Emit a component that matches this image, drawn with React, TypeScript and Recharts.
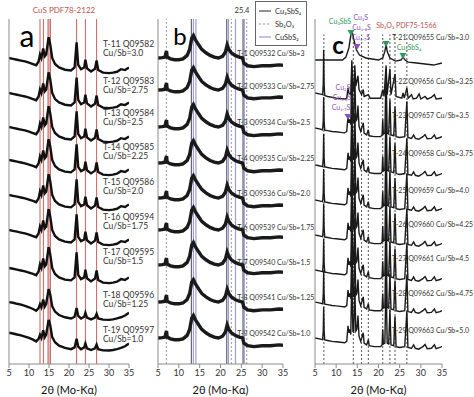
import React from 'react';
import { LineChart, Line, XAxis, YAxis, ReferenceLine, ReferenceArea, ReferenceDot, Label } from 'recharts';

type Pt = [number, number];

// ---------- common ----------
const xTicks = [5, 10, 15, 20, 25, 30, 35];
const yTicks = [0, 1, 2, 3, 4, 5, 6, 7, 8, 9, 10, 11, 12, 13, 14, 15, 16, 17, 18, 19, 20];
const xTitle = '2θ (Mo-Kα)';

// ---------- panel a ----------
const profileAUpper: Pt[] = [
  [5, 0], [6, -0.05], [7, -0.1], [8, -0.15], [9, -0.2], [10, -0.27], [11, -0.35], [11.8, -0.42],
  [12.4, -0.2], [12.75, 0.2], [13.1, 0.0], [13.55, 0.55], [13.95, 0.1], [14.3, 0.2], [14.9, 1.2],
  [15.3, 0.8], [15.8, 0.0], [16.5, -0.35], [17.5, -0.55], [19, -0.68], [20.5, -0.72], [21.4, -0.55],
  [21.9, 0.9], [22.3, -0.4], [23, -0.65], [23.8, -0.55], [24.1, -0.1], [24.5, -0.6], [25.5, -0.78],
  [26.5, -0.62], [26.9, -0.15], [27.3, -0.7], [28.5, -0.85], [30, -0.88], [31, -0.85], [32, -0.8],
  [33, -0.65], [34, -0.7], [35, -0.55],
];
const profileALower: Pt[] = [
  [5, 0], [6, -0.04], [7, -0.1], [8, -0.15], [9, -0.22], [10, -0.3], [11, -0.4], [11.8, -0.5],
  [12.4, -0.35], [12.75, -0.12], [13.1, -0.3], [13.55, 0.15], [13.95, -0.25], [14.3, -0.1], [14.9, 0.75],
  [15.3, 0.45], [15.8, -0.25], [16.5, -0.55], [17.5, -0.75], [19, -0.88], [20.5, -0.95], [21.4, -0.85],
  [21.9, -0.35], [22.3, -0.8], [23, -0.95], [23.8, -0.85], [24.1, -0.62], [24.5, -0.9], [25.5, -1.0],
  [26.5, -0.9], [26.9, -0.68], [27.3, -0.95], [28.5, -1.02], [30, -1.03], [31, -1.0], [32, -0.95],
  [33, -0.88], [34, -0.78], [35, -0.62],
];
const profilesA = [profileAUpper, profileALower];
const samplesA = ['T-11 Q09582', 'T-12 Q09583', 'T-13 Q09584', 'T-14 Q09585', 'T-15 Q09586', 'T-16 Q09594', 'T-17 Q09595', 'T-18 Q09596', 'T-19 Q09597'];
const ratiosA = ['Cu/Sb=3.0', 'Cu/Sb=2.75', 'Cu/Sb=2.5', 'Cu/Sb=2.25', 'Cu/Sb=2.0', 'Cu/Sb=1.75', 'Cu/Sb=1.5', 'Cu/Sb=1.25', 'Cu/Sb=1.0'];
const offsetsA = [17.74, 15.71, 13.74, 11.83, 9.8, 7.77, 5.57, 3.59, 1.81];
const profileIndexA = [0, 0, 0, 0, 0, 0, 0, 1, 1];
const labelXA = 28.5;
const labelYA = [18.38, 16.23, 14.38, 12.41, 10.38, 8.35, 6.32, 3.83, 1.8];
const cusLines = [12.75, 13.6, 14.75, 15.35, 21.9, 24.1, 26.9];
const cusBand: [number, number] = [14.75, 15.35];

// ---------- panel b ----------
const profileB: Pt[] = [
  [5, 0], [6, 0.02], [6.7, 0.05], [6.9, 0.3], [7.05, 0.4], [7.2, 0.05], [8, -0.05], [9, -0.1], [10, -0.1],
  [11, -0.05], [12, 0.15], [12.6, 0.5], [13.1, 1.15], [13.5, 1.3], [14.0, 1.05], [14.8, 0.75], [15.5, 0.5],
  [16.5, 0.3], [17.5, 0.15], [18.5, 0.05], [19.5, 0.0], [20.5, 0.1], [21.2, 0.35], [21.6, 0.75], [22.0, 0.5],
  [22.6, 0.3], [23.5, 0.15], [24.5, 0.05], [25.3, 0.0], [25.6, -0.3], [26.5, -0.45], [28, -0.5], [30, -0.45],
  [32, -0.45], [34, -0.4], [35, -0.42],
];
const samplesB = ['T-1 Q09532 Cu/Sb=3', 'T-2 Q09533 Cu/Sb=2.75', 'T-3 Q09534 Cu/Sb=2.5', 'T-4 Q09535 Cu/Sb=2.25', 'T-5 Q09536 Cu/Sb=2.0', 'T-6 Q09539 Cu/Sb=1.75', 'T-7 Q09540 Cu/Sb=1.5', 'T-8 Q09541 Cu/Sb=1.25', 'T-9 Q09542 Cu/Sb=1.0'];
const offsetsB = [17.74, 15.88, 13.74, 11.65, 9.62, 7.77, 5.74, 3.59, 1.51];
const labelXB = 24.0;
const labelYB = [17.86, 15.94, 13.86, 11.77, 9.74, 7.77, 5.74, 3.71, 1.62];
const cu3sbs4Lines = [13.0, 21.5, 25.4];
const cusbs2Lines = [13.5, 14.1, 21.9, 23.6, 25.7];
const sb2o3LinesB = [7.0, 22.6, 26.3];
const legendB = ['Cu₃SbS₄', 'Sb₂O₃', 'CuSbS₂'];

// ---------- panel c ----------
const profileC21: Pt[] = [
  [5, 0], [8, 0], [10, 0], [11.5, 0], [12.3, 0.17], [13.0, 0.7], [13.5, 1.5], [13.8, 1.62], [14.2, 1.16],
  [14.8, 0.58], [15.5, 0.29], [17, 0.12], [18.5, 0.06], [20, 0], [21.0, 0.12], [21.5, 0.5], [21.8, 0.87],
  [22.1, 0.46], [22.7, 0.12], [24, -0.06], [25.3, 0], [25.8, 0.17], [26.3, 0], [27, -0.12], [29, -0.17],
  [31, -0.23], [33, -0.29], [35, -0.17],
];
const profileC22: Pt[] = [
  [5, 0], [6, -0.05], [6.8, -0.1], [6.95, 0.5], [7.05, 2.5], [7.15, 0.5], [7.3, -0.15], [8, -0.2], [10, -0.3],
  [12, -0.35], [12.5, -0.3], [12.8, 0.3], [13.0, 0.0], [13.45, -0.1], [13.7, 1.9], [13.95, 0.2], [14.15, 0.1],
  [14.4, 1.6], [14.65, 0.4], [15.15, 1.0], [15.4, 0.2], [16, -0.1], [16.4, 0.2], [16.6, -0.2], [17.6, -0.1],
  [18, -0.3], [20.5, -0.3], [21.0, 0.2], [21.3, -0.2], [21.8, 1.6], [22.05, -0.1], [22.7, 1.4], [22.95, -0.1],
  [23.9, 1.1], [24.15, -0.2], [25.5, -0.3], [25.8, 0.0], [26.1, -0.3], [26.7, 0.3], [27.0, -0.3], [27.8, -0.1],
  [28.2, -0.35], [29, -0.3], [29.6, -0.05], [30, -0.35], [31, -0.2], [31.5, -0.35], [32.5, -0.25], [33.2, -0.1],
  [33.6, -0.35], [35, -0.3],
];
const profileCMain: Pt[] = [
  [5, 0], [6, -0.05], [6.8, -0.1], [6.95, 0.4], [7.05, 1.8], [7.15, 0.4], [7.3, -0.12], [8, -0.15], [9, -0.2],
  [10, -0.22], [11, -0.25], [12, -0.28], [12.5, -0.2], [12.8, 0.7], [13.0, 0.3], [13.2, 0.5], [13.45, 0.2],
  [13.7, 3.6], [13.95, 0.4], [14.15, 0.3], [14.4, 3.0], [14.65, 0.4], [14.9, 0.5], [15.15, 1.3], [15.4, 0.1],
  [15.8, -0.2], [16.4, 0.3], [16.6, -0.3], [17.2, -0.4], [17.6, -0.1], [17.8, -0.45], [19, -0.5], [20.5, -0.5],
  [20.85, -0.4], [21.0, 0.5], [21.15, -0.35], [21.5, -0.3], [21.8, 3.4], [22.05, -0.3], [22.4, -0.35],
  [22.7, 1.65], [22.95, -0.4], [23.6, -0.45], [23.9, 1.25], [24.15, -0.5], [25, -0.55], [26.2, -0.5],
  [26.7, 1.55], [26.95, -0.55], [27.8, -0.6], [28.3, -0.4], [28.7, -0.6], [29.5, -0.65], [30.5, -0.5],
  [31, -0.38], [31.5, -0.62], [32.5, -0.6], [33.2, -0.4], [33.6, -0.62], [34.5, -0.55], [35, -0.5],
];
const profilesC = [profileC21, profileC22, profileCMain];
const profileIndexC = [0, 1, 2, 2, 2, 2, 2, 2, 2];
const samplesC = ['T-21 Q09655 Cu/Sb=3.0', 'T-22 Q09656 Cu/Sb=3.25', 'T-23 Q09657 Cu/Sb=3.5', 'T-24 Q09658 Cu/Sb=3.75', 'T-25 Q09659 Cu/Sb=4.0', 'T-26 Q09660 Cu/Sb=4.25', 'T-27 Q09661 Cu/Sb=4.5', 'T-28 Q09662 Cu/Sb=4.75', 'T-29 Q09663 Cu/Sb=5.0'];
const offsetsC = [17.62, 15.71, 13.68, 11.54, 9.51, 7.48, 5.45, 3.59, 1.51];
const labelXC = 23.2;
const labelYC = [18.78, 16.23, 14.26, 12.06, 9.91, 7.94, 5.97, 3.94, 1.8];
const sb2o3LinesC = [7.1, 14.05, 16.0, 17.6, 21.0, 22.7, 23.9, 26.7];
const phaseLabelsC: { text: string; x: number; y: number; color: string }[] = [
  { text: 'Cu₃SbS', x: 10.9, y: 19.7, color: '#2e9a5c' },
  { text: 'Cu₂S', x: 15.8, y: 19.94, color: '#8a52b8' },
  { text: 'Cu₁.₈S', x: 16.0, y: 19.36, color: '#8a52b8' },
  { text: 'Cu₁.₇S', x: 15.8, y: 18.78, color: '#8a52b8' },
  { text: 'Sb₂O₃ PDF75-1566', x: 26.6, y: 19.48, color: '#c0504d' },
  { text: 'Cu₃SbS₄', x: 27.2, y: 18.2, color: '#2e9a5c' },
  { text: 'Cu₂S', x: 11.6, y: 15.88, color: '#8a52b8' },
  { text: 'Cu₁.₈S', x: 11.4, y: 15.3, color: '#8a52b8' },
  { text: 'Cu₁.₇S', x: 11.14, y: 14.72, color: '#8a52b8' },
];
const markersC: { x: number; y: number; color: string }[] = [
  { x: 13.5, y: 19.19, color: '#2e9a5c' },
  { x: 14.92, y: 18.38, color: '#8a52b8' },
  { x: 21.77, y: 18.55, color: '#2e9a5c' },
  { x: 25.79, y: 17.86, color: '#2e9a5c' },
  { x: 12.8, y: 14.32, color: '#8a52b8' },
];

// ---------- helpers ----------
const toSeries = (profile: Pt[], offset: number) => profile.map(([x, v]) => ({ x, y: v + offset }));

const textShape = (lines: string[], size: number, color: string, anchor: string, weight: string | number = 'normal') =>
  (props: any) => (
    <text x={props.cx} y={props.cy} textAnchor={anchor} fontSize={size} fill={color} fontWeight={weight}>
      {lines.map((l, i) => (
        <tspan key={i} x={props.cx} dy={i === 0 ? 0 : '1.1em'}>{l}</tspan>
      ))}
    </text>
  );

const triShape = (color: string) => (props: any) => (
  <path d={`M${props.cx - 3.5},${props.cy - 3} L${props.cx + 3.5},${props.cy - 3} L${props.cx},${props.cy + 3} Z`} fill={color} />
);

const axisColor = '#8c8c8c';

const axes = (key: string) => [
  <XAxis key={key + 'x'} type="number" dataKey="x" domain={[5, 35]} ticks={xTicks} interval={0}
    allowDataOverflow stroke={axisColor} tickSize={4} height={33}
    tick={{ fontSize: 9, fill: '#333' }} tickLine={{ stroke: axisColor }}>
    <Label value={xTitle} position="insideBottom" offset={3} style={{ fontSize: 11, fill: '#111' }} />
  </XAxis>,
  <YAxis key={key + 'y'} type="number" domain={[0, 20]} ticks={yTicks} interval={0} width={4}
    tick={false} tickSize={4} stroke={axisColor} tickLine={{ stroke: axisColor }} />,
];

const PanelA = () => (
  <LineChart width={160} height={397} margin={{ top: 19, right: 31, bottom: 0, left: 5 }}>
    {axes('a')}
    <ReferenceArea x1={cusBand[0]} x2={cusBand[1]} y1={0} y2={20} fill="#e3b4b4" fillOpacity={0.8} stroke="none" ifOverflow="visible" />
    {cusLines.map((x, i) => (
      <ReferenceLine key={'cl' + i} x={x} stroke="#c0504d" strokeWidth={0.9} ifOverflow="visible" />
    ))}
    {offsetsA.map((off, i) => (
      <Line key={'la' + i} data={toSeries(profilesA[profileIndexA[i]], off)} dataKey="y" type="linear"
        stroke="#111" strokeWidth={2.4} dot={false} isAnimationActive={false} />
    ))}
    {samplesA.map((s, i) => (
      <ReferenceDot key={'ta' + i} x={labelXA} y={labelYA[i]} r={1} ifOverflow="visible"
        shape={textShape([s, ratiosA[i]], 8.5, '#333', 'start')} />
    ))}
    <ReferenceDot x={9.5} y={18.38} r={1} ifOverflow="visible" shape={textShape(['a'], 30, '#000', 'middle')} />
    <ReferenceDot x={18.75} y={20.35} r={1} ifOverflow="visible" shape={textShape(['CuS PDF78-2122'], 8, '#c0504d', 'middle')} />
  </LineChart>
);

const PanelB = () => (
  <LineChart width={163} height={397} margin={{ top: 19, right: 30, bottom: 0, left: 4 }}>
    {axes('b')}
    {sb2o3LinesB.map((x, i) => (
      <ReferenceLine key={'sb' + i} x={x} stroke="#9a9a9a" strokeDasharray="2 2" strokeWidth={1} />
    ))}
    {cusbs2Lines.map((x, i) => (
      <ReferenceLine key={'cs' + i} x={x} stroke="#9c9cd6" strokeWidth={1.2} />
    ))}
    {cu3sbs4Lines.map((x, i) => (
      <ReferenceLine key={'c3' + i} x={x} stroke="#4a4a5a" strokeWidth={1} />
    ))}
    {offsetsB.map((off, i) => (
      <Line key={'lb' + i} data={toSeries(profileB, off)} dataKey="y" type="linear"
        stroke="#1a1a1a" strokeWidth={3.4} dot={false} isAnimationActive={false} />
    ))}
    {samplesB.map((s, i) => (
      <ReferenceDot key={'tb' + i} x={labelXB} y={labelYB[i]} r={1} ifOverflow="visible"
        shape={textShape([s], 7, '#333', 'start')} />
    ))}
    <ReferenceDot x={10.28} y={18.49} r={1} ifOverflow="visible" shape={textShape(['b'], 24, '#000', 'middle')} />
    <ReferenceDot x={25.16} y={20.35} r={1} ifOverflow="visible" shape={textShape(['25.4'], 7.5, '#333', 'middle')} />
  </LineChart>
);

const PanelC = () => (
  <LineChart width={169} height={397} margin={{ top: 19, right: 32, bottom: 0, left: 6 }}>
    {axes('c')}
    {sb2o3LinesC.map((x, i) => (
      <ReferenceLine key={'sc' + i} segment={[{ x, y: 0 }, { x, y: 19.1 }]} stroke="#555" strokeDasharray="2 2" strokeWidth={1} />
    ))}
    {offsetsC.map((off, i) => (
      <Line key={'lc' + i} data={toSeries(profilesC[profileIndexC[i]], off)} dataKey="y" type="linear"
        stroke="#1a1a1a" strokeWidth={1.4} dot={false} isAnimationActive={false} />
    ))}
    {samplesC.map((s, i) => (
      <ReferenceDot key={'tc' + i} x={labelXC} y={labelYC[i]} r={1} ifOverflow="visible"
        shape={textShape([s], 7, '#333', 'start')} />
    ))}
    {phaseLabelsC.map((p, i) => (
      <ReferenceDot key={'pc' + i} x={p.x} y={p.y} r={1} ifOverflow="visible"
        shape={textShape([p.text], 7, p.color, 'middle')} />
    ))}
    {markersC.map((m, i) => (
      <ReferenceDot key={'mc' + i} x={m.x} y={m.y} r={1} ifOverflow="visible" shape={triShape(m.color)} />
    ))}
    <ReferenceDot x={10.43} y={17.95} r={1} ifOverflow="visible" shape={textShape(['c'], 24, '#000', 'middle', 'bold')} />
  </LineChart>
);

const legendColors = ['#4a4a5a', '#9a9a9a', '#9c9cd6'];
const legendDash = ['none', '2 2', 'none'];

export default function App() {
  return (
    <div style={{ position: 'absolute', left: 0, top: 0, width: 474, height: 397, background: '#fff', overflow: 'hidden', fontFamily: 'Lato, "Liberation Sans", sans-serif' }}>
      <style>{'.recharts-surface{overflow:visible}'}</style>
      <div style={{ position: 'absolute', left: 0, top: 0 }}><PanelA /></div>
      <div style={{ position: 'absolute', left: 150, top: 0 }}><PanelB /></div>
      <div style={{ position: 'absolute', left: 305, top: 0 }}><PanelC /></div>
      <div style={{ position: 'absolute', left: 255, top: 1, width: 52, height: 45, border: '1px solid #666', background: '#fff', boxSizing: 'border-box' }}>
        {legendB.map((name, i) => (
          <div key={name} style={{ position: 'absolute', left: 3, top: 3 + i * 13, height: 12, display: 'flex', alignItems: 'center', fontSize: 7.5, color: '#333' }}>
            <svg width={12} height={4} style={{ marginRight: 4 }}>
              <line x1={0} y1={2} x2={12} y2={2} stroke={legendColors[i]} strokeWidth={1.2} strokeDasharray={legendDash[i]} />
            </svg>
            {name}
          </div>
        ))}
      </div>
    </div>
  );
}
